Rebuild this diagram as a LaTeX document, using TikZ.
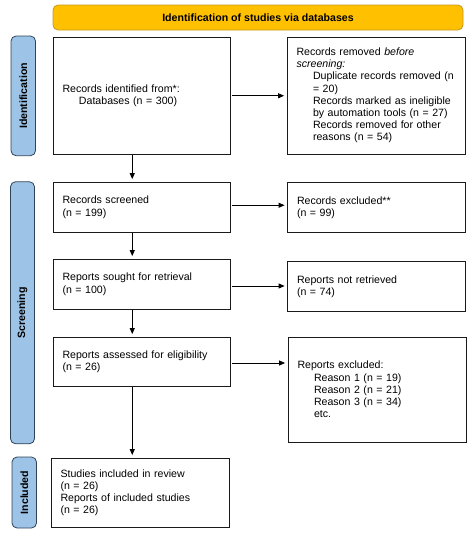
\documentclass[tikz,border=0pt]{standalone}
\usepackage{fontspec}
\setmainfont{Liberation Sans}
\usetikzlibrary{arrows.meta}
\definecolor{bannerfill}{HTML}{FFC000}
\definecolor{bannerdraw}{HTML}{C49A1E}
\definecolor{barfill}{HTML}{9DC3E6}
\definecolor{bardraw}{HTML}{2F4358}
\definecolor{boxdraw}{HTML}{1A1A1A}
\begin{document}
\begin{tikzpicture}[x=1pt,y=-1pt,
  every node/.style={font=\fontsize{10.6}{12.2}\selectfont},
  box/.style={draw=boxdraw,line width=0.8pt,fill=white,align=left,inner xsep=9.5pt,inner ysep=0pt,anchor=center},
  bar/.style={draw=bardraw,fill=barfill,line width=0.8pt,rounded corners=5pt,rotate=90,anchor=center,inner sep=0pt,font=\fontsize{10.6}{12.2}\selectfont\bfseries},
  banner/.style={draw=bannerdraw,fill=bannerfill,line width=0.8pt,rounded corners=5pt,anchor=center,inner sep=0pt,font=\fontsize{10.6}{12.2}\selectfont\bfseries},
  arr/.style={-{Triangle[length=6pt,width=5pt]},line width=0.8pt,draw=black,shorten >=2.5pt}]
\useasboundingbox (0,0) rectangle (474,536);
\def\ind{\hspace*{16.5pt}}
% banner and side bars
\node[banner,minimum width=410pt,minimum height=25pt] (ban) at (258,17.5) {Identification of studies via databases};
\node[bar,minimum width=119.7pt,minimum height=24.5pt] (idbar) at (23.25,95.85) {Identification};
\node[bar,minimum width=262pt,minimum height=24pt] (scrbar) at (22.5,312.75) {Screening};
\node[bar,minimum width=71pt,minimum height=24.5pt] (incbar) at (24.25,492.5) {Included};
% boxes
\node[box,minimum width=177.5pt,minimum height=117.5pt,text width=158.5pt] (b1) at (141.75,95.75)
  {Records identified from*:\\\ind Databases (n = 300)};
\node[box,minimum width=178.5pt,minimum height=117pt,text width=159.5pt] (b2) at (376.25,95.5)
  {Records removed \textit{before}\\\textit{screening:}\\\ind Duplicate records removed (n\\\ind = 20)\\\ind Records marked as ineligible\\\ind by automation tools (n = 27)\\\ind Records removed for other\\\ind reasons (n = 54)};
\node[box,minimum width=177.5pt,minimum height=50.5pt,text width=158.5pt] (b3) at (141.75,207.25)
  {Records screened\\(n = 199)};
\node[box,minimum width=178pt,minimum height=50pt,text width=159pt] (b4) at (376.5,207.5)
  {Records excluded**\\(n = 99)};
\node[box,minimum width=177.5pt,minimum height=50.5pt,text width=158.5pt] (b5) at (141.75,284.25)
  {Reports sought for retrieval\\(n = 100)};
\node[box,minimum width=178pt,minimum height=50pt,text width=159pt] (b6) at (376.5,286.5)
  {Reports not retrieved\\(n = 74)};
\node[box,minimum width=177.5pt,minimum height=49.5pt,text width=158.5pt] (b7) at (141.75,361.75)
  {Reports assessed for eligibility\\(n = 26)};
\node[box,minimum width=178pt,minimum height=105pt,text width=159pt] (b8) at (377,389.5)
  {Reports excluded:\\\ind Reason 1 (n = 19)\\\ind Reason 2 (n = 21)\\\ind Reason 3 (n = 34)\\\ind etc.};
\node[box,minimum width=178pt,minimum height=69.5pt,text width=159pt] (b9) at (140,492.75)
  {Studies included in review\\(n = 26)\\Reports of included studies\\(n = 26)};
% vertical connectors (offset from box centre as in the reference)
\coordinate (v1) at ([xshift=-9.5pt]b1.south);
\coordinate (v3) at ([xshift=-9.5pt]b3.south);
\coordinate (v5) at ([xshift=-9.5pt]b5.south);
\coordinate (v7) at ([xshift=-9.5pt]b7.south);
\draw[arr] (v1) -- (v1 |- b3.north);
\draw[arr] (v3) -- (v3 |- b5.north);
\draw[arr] (v5) -- (v5 |- b7.north);
\draw[arr] (v7) -- (v7 |- b9.north);
% horizontal connectors
\draw[arr] ([xshift=1.5pt]b1.east) -- (b1.east -| b2.west);
\draw[arr] ([xshift=1.5pt,yshift=2pt]b3.east) -- ([yshift=2pt]b3.east -| b4.west);
\draw[arr] ([xshift=1.5pt,yshift=-1.75pt]b5.east) -- ([yshift=-1.75pt]b5.east -| b6.west);
\draw[arr] ([xshift=1.5pt,yshift=-1.25pt]b7.east) -- ([yshift=-1.25pt]b7.east -| b8.west);
\end{tikzpicture}
\end{document}
